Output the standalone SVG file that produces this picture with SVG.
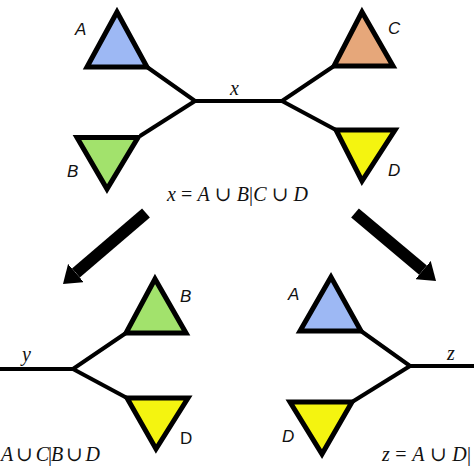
<svg xmlns="http://www.w3.org/2000/svg" width="474" height="474" viewBox="0 0 474 474">
<style>
.tri{stroke:#000;stroke-width:5;stroke-linejoin:miter;stroke-miterlimit:10}
.blue{fill:#9DB8F4}.green{fill:#A2E26C}.orange{fill:#E6A77A}.yellow{fill:#F4F410}
.edge{stroke:#000;stroke-width:4;fill:none;stroke-linecap:butt}
.arrow{stroke:#000;stroke-width:12;fill:none}
.lab{font-family:"Liberation Sans","DejaVu Sans",sans-serif;font-size:17px;font-style:italic;fill:#111}
.up{font-style:normal}
.math{font-family:"Liberation Serif","DejaVu Serif",serif;font-size:20px;fill:#111}
.i{font-style:italic}
</style>
<defs>
<marker id="head" viewBox="0 0 17 24" refX="0" refY="12" markerWidth="17" markerHeight="24" markerUnits="userSpaceOnUse" orient="auto">
<path d="M0,0 L17,12 L0,24 Z" fill="#000"/>
</marker>
</defs>
<rect width="474" height="474" fill="#fff"/>
<g id="connectors">
<path class="edge" d="M147,67 L195,101 L282,101 L334,66"/>
<path class="edge" d="M140,136 L195,101"/>
<path class="edge" d="M282,101 L336,130"/>
<path class="edge" d="M0,369 L73,369 L126,333"/>
<path class="edge" d="M73,369 L127,398"/>
<path class="edge" d="M474,366 L410,366 L361,331"/>
<path class="edge" d="M410,366 L352,402"/>
<line class="arrow" x1="146" y1="213" x2="75.9" y2="273" marker-end="url(#head)"/>
<line class="arrow" x1="355" y1="213" x2="423" y2="270.1" marker-end="url(#head)"/>
</g>
<g id="top-A"><polygon class="tri blue" points="117,12 87,67 147,67"/><text class="lab" x="75" y="35">A</text></g>
<g id="top-B"><polygon class="tri green" points="77,137.5 138,137.5 107,189"/><text class="lab" x="67" y="177">B</text></g>
<g id="top-C"><polygon class="tri orange" points="362,12 334,66 393,66"/><text class="lab" x="388" y="34">C</text></g>
<g id="top-D"><polygon class="tri yellow" points="336,130 395,130 362,181"/><text class="lab" x="388" y="176">D</text></g>
<g id="label-x"><text class="math i" x="230" y="95">x</text></g>
<g id="formula-x"><text class="math" x="167" y="201" textLength="141" lengthAdjust="spacing"><tspan class="i">x</tspan> = <tspan class="i">A</tspan> ∪ <tspan class="i">B</tspan>|<tspan class="i">C</tspan> ∪ <tspan class="i">D</tspan></text></g>
<g id="left-B"><polygon class="tri green" points="155,279 126,333 186,333"/><text class="lab" x="180" y="302">B</text></g>
<g id="left-D"><polygon class="tri yellow" points="127,398 188,398 156,449"/><text class="lab up" x="180" y="444">D</text></g>
<g id="label-y"><text class="math i" x="22" y="361">y</text></g>
<g id="formula-y"><text class="math" x="1" y="461" textLength="99" lengthAdjust="spacing"><tspan class="i">A</tspan> ∪ <tspan class="i">C</tspan>|<tspan class="i">B</tspan> ∪ <tspan class="i">D</tspan></text></g>
<g id="right-A"><polygon class="tri blue" points="331,277 300,331 361,331"/><text class="lab" x="288" y="300">A</text></g>
<g id="right-D"><polygon class="tri yellow" points="290,402 352,402 322,454"/><text class="lab" x="282" y="442">D</text></g>
<g id="label-z"><text class="math i" x="447" y="360">z</text></g>
<g id="formula-z"><text class="math" x="382" y="461" textLength="89" lengthAdjust="spacing"><tspan class="i">z</tspan> = <tspan class="i">A</tspan> ∪ <tspan class="i">D</tspan>|</text></g>
</svg>
